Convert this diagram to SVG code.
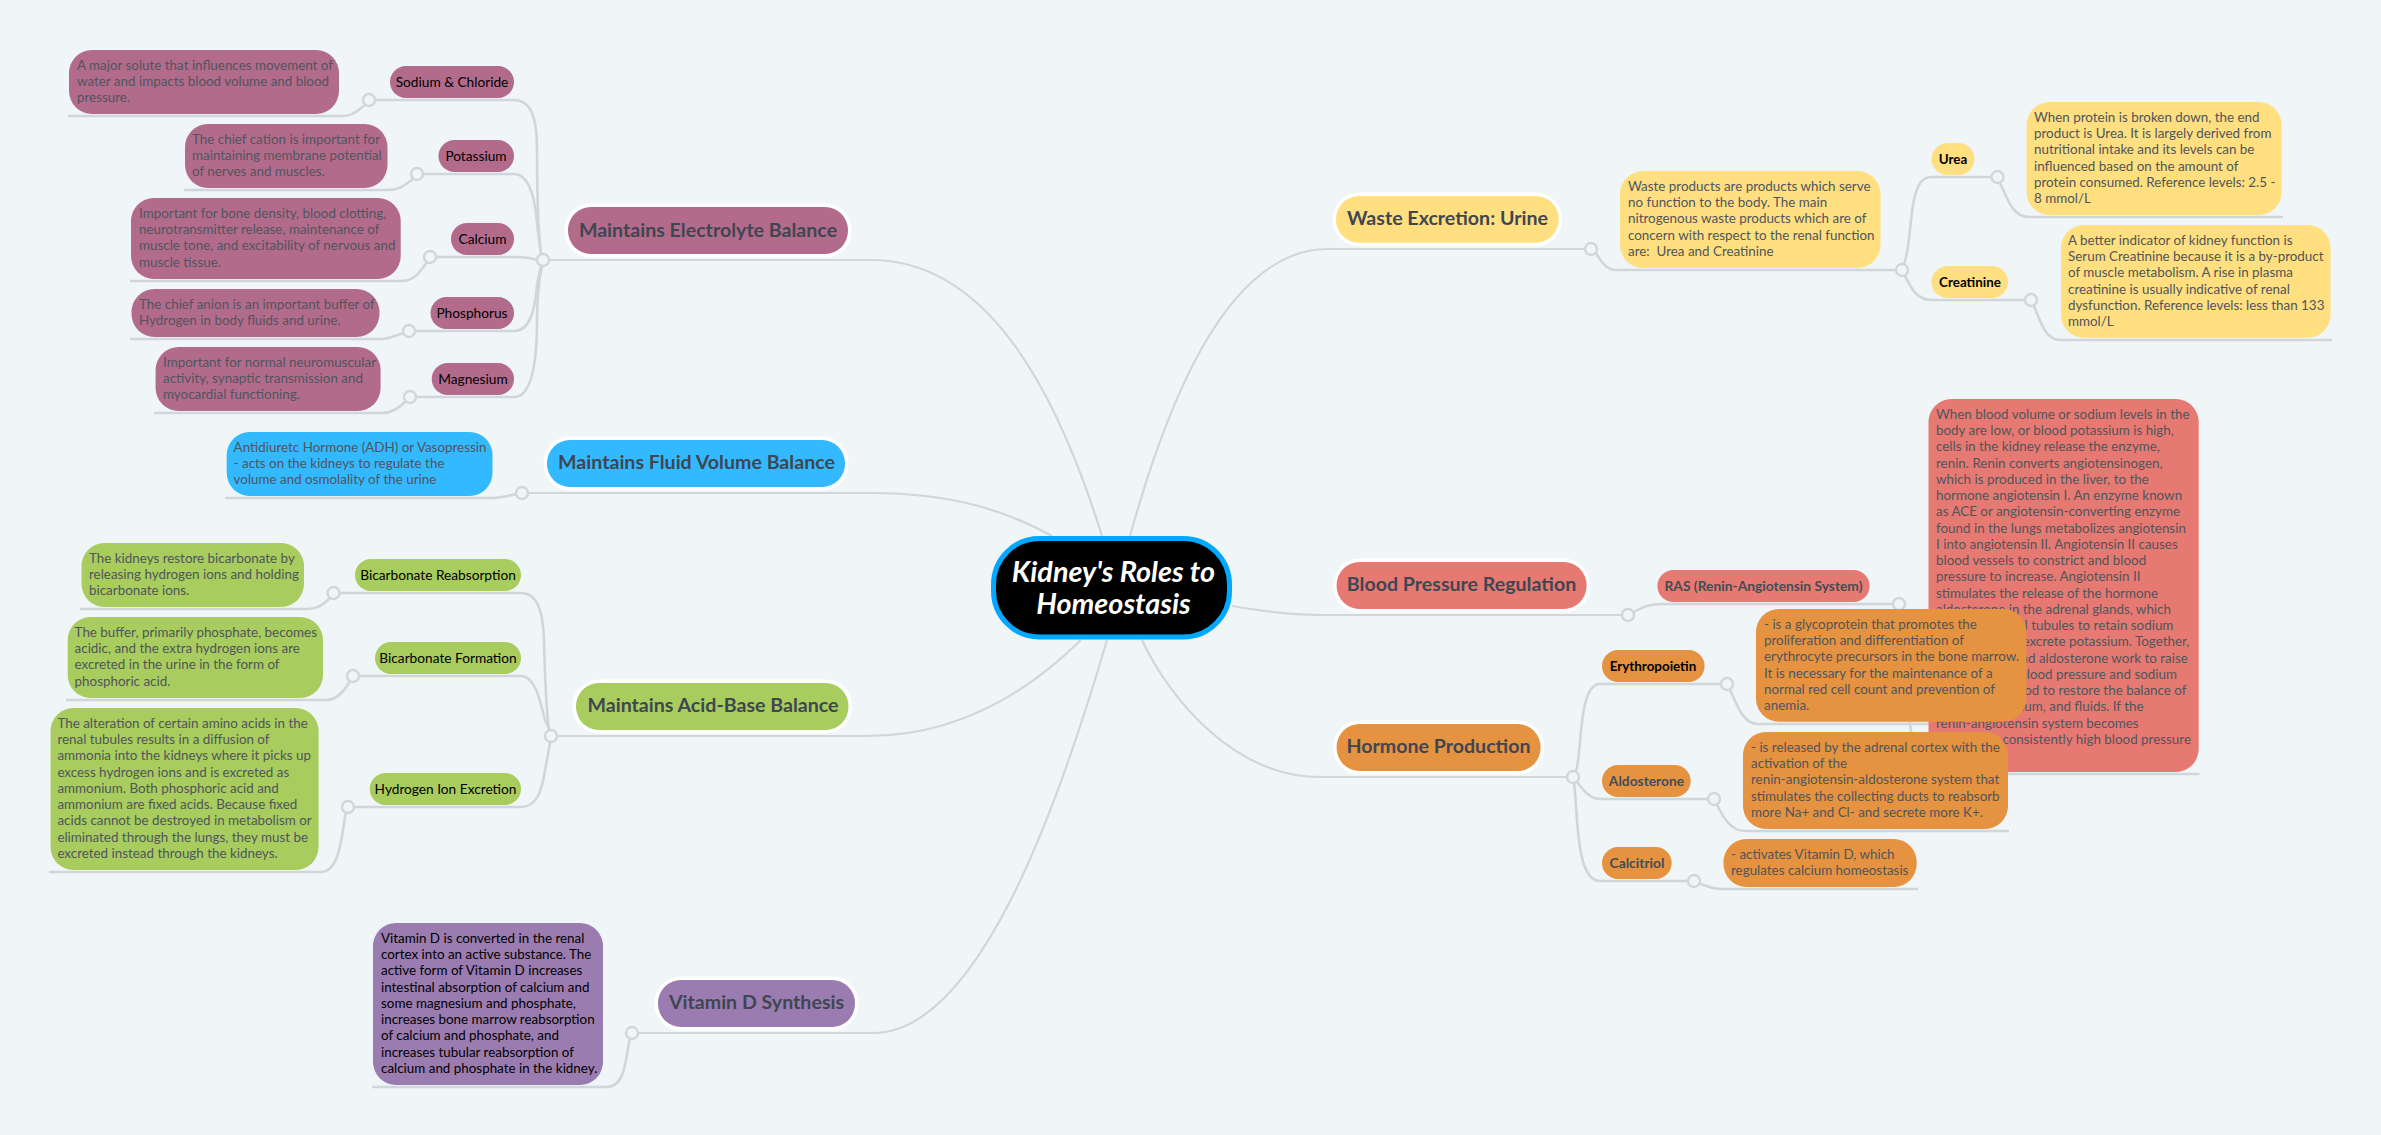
<svg xmlns="http://www.w3.org/2000/svg" width="2381" height="1135" viewBox="0 0 2381 1135">
<style>
text{font-family:"Lato","Liberation Sans",sans-serif}
.c{fill:none;stroke:#d0d6da;stroke-width:2.6}
.r{fill:none;stroke:#d0d6da;stroke-width:2.2}
.h{fill:#f0f5f8;stroke:#d0d6da;stroke-width:2.4}
.m{stroke:#fff;stroke-width:7;paint-order:stroke}
.t{font-size:19.600px;font-weight:700;fill:#3f4651;text-anchor:middle}
.s{font-size:13.700px;font-weight:400;fill:#000;text-anchor:middle}
.sb{font-size:13.400px;font-weight:700;fill:#000;text-anchor:middle}
.sg{font-size:13.800px;font-weight:700;fill:#444c55;text-anchor:middle}
.b{font-size:13.400px;fill:#50555c}
.k{fill:#000}
.e{text-anchor:end}
.pl{fill:#b36b8c}.bl{fill:#33b9ff}.gr{fill:#a8cc5e}.pu{fill:#9a7cb0}.ye{fill:#ffdf7f}.re{fill:#e67a72}.or{fill:#e59340}
</style>
<rect width="2381" height="1135" fill="#f0f5f8"/>
<g id="connectors">
<path class="r" d="M1130 536C1165 410 1225 249 1328 249H1585"/>
<path class="r" d="M1102 536C1055 385 985 260 871 260H548"/>
<path class="r" d="M1052 536C1005 510 950 493 871 493H528"/>
<path class="r" d="M1081 640C1020 700 950 736 867 736H557"/>
<path class="r" d="M1107 640C1060 800 980 1033 873 1033H638"/>
<path class="r" d="M1142 640C1170 700 1235 777 1320 777H1567"/>
<path class="r" d="M1232 606C1260 611 1290 615 1320 615H1622"/>
<path class="c" d="M375 100H514C530 100 537 115 537 150C537 190 538 230 541 254"/>
<path class="c" d="M423 174H514C530 174 535 200 537 222C538 235 540 245 541 254"/>
<path class="c" d="M436 257H514C525 257 532 258 537 260"/>
<path class="c" d="M415 331H514C530 331 535 310 537 285C538 278 540 272 541 266"/>
<path class="c" d="M416 397H514C532 397 537 360 537 320C537 295 539 280 542 266"/>
<path class="c" d="M365 105C358 110 354 116 342 116H68"/>
<path class="c" d="M413 179C406 184 400 190 388 190H184"/>
<path class="c" d="M427 262C420 272 414 281 402 281H130"/>
<path class="c" d="M404 333C396 335 390 339 381 339H130"/>
<path class="c" d="M406 401C400 407 393 413 381 413H154"/>
<path class="c" d="M517 494C510 495 503 498 493 498H225"/>
<path class="c" d="M339 593H521C537 593 543 610 544 640C545 680 547 715 549 730"/>
<path class="c" d="M359 676H521C535 676 540 700 545 720C547 725 549 728 550 730"/>
<path class="c" d="M354 807H521C537 807 542 790 545 770C547 760 549 750 550 742"/>
<path class="c" d="M330 598C325 602 320 609 308 609H80"/>
<path class="c" d="M350 681C345 690 338 700 326 700H66"/>
<path class="c" d="M346 812C342 830 341 872 321 872H49"/>
<path class="c" d="M630 1038C625 1060 626 1087 606 1087H372"/>
<path class="c" d="M1596 253C1600 260 1606 270 1616 270H1896"/>
<path class="c" d="M1904 264C1910 250 1910 215 1914 200C1917 185 1922 177 1932 177H1992"/>
<path class="c" d="M1905 276C1910 285 1915 300 1932 300H2025"/>
<path class="c" d="M2000 183C2006 195 2012 217 2028 217H2283"/>
<path class="c" d="M2034 306C2040 320 2045 340 2060 340H2332"/>
<path class="c" d="M1634 612C1640 608 1650 604 1662 604H1893"/>
<path class="c" d="M1901 610C1906 650 1903 760 1930 774H2199.500"/>
<path class="c" d="M1576 771C1582 755 1578 684 1600 684H1721"/>
<path class="c" d="M1577 782C1583 790 1590 799 1600 799H1708"/>
<path class="c" d="M1574 783C1578 810 1575 881 1600 881H1688"/>
<path class="c" d="M1730 690C1736 702 1742 724 1758 724H2030"/>
<path class="c" d="M1717 805C1722 815 1730 831 1745 831H2009"/>
<path class="c" d="M1700 884C1706 885 1712 889 1722 889H1918"/>
<g fill="#f0f5f8">
<circle class="h" cx="543" cy="260" r="6"/><circle class="h" cx="369" cy="100" r="6"/><circle class="h" cx="417" cy="174" r="6"/><circle class="h" cx="430" cy="257" r="6"/><circle class="h" cx="409" cy="331" r="6"/><circle class="h" cx="410" cy="397" r="6"/><circle class="h" cx="522" cy="493" r="6"/>
<circle class="h" cx="551" cy="736" r="6"/><circle class="h" cx="333.500" cy="593" r="6"/><circle class="h" cx="353" cy="676" r="6"/><circle class="h" cx="348" cy="807" r="6"/><circle class="h" cx="632" cy="1033" r="6"/>
<circle class="h" cx="1591" cy="249" r="6"/><circle class="h" cx="1902" cy="270" r="6"/><circle class="h" cx="1997.500" cy="177" r="6"/><circle class="h" cx="2031" cy="300" r="6"/>
<circle class="h" cx="1628" cy="615" r="6"/><circle class="h" cx="1899" cy="604" r="6"/><circle class="h" cx="1573" cy="777" r="6"/><circle class="h" cx="1727" cy="684" r="6"/><circle class="h" cx="1714" cy="799" r="6"/><circle class="h" cx="1694" cy="881" r="6"/>
</g>
</g>
<g id="central"><rect x="993.500" y="538.500" width="236" height="98.500" rx="46" fill="#000" stroke="#00a8ff" stroke-width="5"/><text x="1113.500" y="582" text-anchor="middle" font-size="28.800" font-weight="700" font-style="italic" fill="#fff">Kidney's Roles to</text><text x="1113.500" y="614" text-anchor="middle" font-size="28.800" font-weight="700" font-style="italic" fill="#fff">Homeostasis</text></g>

<g id="t-electrolyte"><rect class="pl m" x="568" y="207" width="280" height="47" rx="23"/><text class="t" x="708" y="236.500">Maintains Electrolyte Balance</text></g>
<g id="n-sodium"><rect class="pl" x="390" y="66" width="124" height="32" rx="16"/><text class="s" x="452" y="87">Sodium &amp; Chloride</text></g>
<g id="d-sodium"><rect class="pl" x="69" y="50" width="270" height="64" rx="23"/><text class="b"><tspan x="77" y="70">A major solute that influences movement of</tspan><tspan x="77" y="86">water and impacts blood volume and blood</tspan><tspan x="77" y="102">pressure.</tspan></text></g>
<g id="n-potassium"><rect class="pl" x="438.500" y="140" width="75.500" height="32" rx="16"/><text class="s" x="476" y="161">Potassium</text></g>
<g id="d-potassium"><rect class="pl" x="185" y="124" width="202.500" height="64" rx="23"/><text class="b"><tspan x="192" y="144">The chief cation is important for</tspan><tspan x="192" y="160">maintaining membrane potential</tspan><tspan x="192" y="176">of nerves and muscles.</tspan></text></g>
<g id="n-calcium"><rect class="pl" x="451" y="223" width="63" height="32" rx="16"/><text class="s" x="482.500" y="244">Calcium</text></g>
<g id="d-calcium"><rect class="pl" x="131" y="198" width="269.700" height="81" rx="23"/><text class="b"><tspan x="139" y="218">Important for bone density, blood clotting,</tspan><tspan x="139" y="234">neurotransmitter release, maintenance of</tspan><tspan x="139" y="250">muscle tone, and excitability of nervous and</tspan><tspan x="139" y="267">muscle tissue.</tspan></text></g>
<g id="n-phosphorus"><rect class="pl" x="430.500" y="297" width="83.500" height="32" rx="16"/><text class="s" x="472" y="318">Phosphorus</text></g>
<g id="d-phosphorus"><rect class="pl" x="131.500" y="289" width="248" height="48" rx="23"/><text class="b"><tspan x="139" y="309">The chief anion is an important buffer of</tspan><tspan x="139" y="325">Hydrogen in body fluids and urine.</tspan></text></g>
<g id="n-magnesium"><rect class="pl" x="431.700" y="363" width="82.300" height="32" rx="16"/><text class="s" x="473" y="384">Magnesium</text></g>
<g id="d-magnesium"><rect class="pl" x="155.600" y="347" width="225" height="64" rx="23"/><text class="b"><tspan x="163" y="367">Important for normal neuromuscular</tspan><tspan x="163" y="383">activity, synaptic transmission and</tspan><tspan x="163" y="399">myocardial functioning.</tspan></text></g>

<g id="t-fluid"><rect class="bl m" x="547" y="440" width="298" height="47" rx="23"/><text class="t" x="696.500" y="469">Maintains Fluid Volume Balance</text></g>
<g id="d-fluid"><rect class="bl" x="226.700" y="432" width="265.800" height="64" rx="23"/><text class="b"><tspan x="233.600" y="452">Antidiuretc Hormone (ADH) or Vasopressin</tspan><tspan x="233.600" y="468">- acts on the kidneys to regulate the</tspan><tspan x="233.600" y="484">volume and osmolality of the urine</tspan></text></g>

<g id="t-acid"><rect class="gr m" x="576" y="683" width="272.500" height="47" rx="23"/><text class="t" x="713" y="712">Maintains Acid-Base Balance</text></g>
<g id="n-reabs"><rect class="gr" x="355" y="559" width="166" height="32" rx="16"/><text class="s" x="438" y="580">Bicarbonate Reabsorption</text></g>
<g id="d-reabs"><rect class="gr" x="81.500" y="543" width="222.500" height="64" rx="23"/><text class="b"><tspan x="89" y="563">The kidneys restore bicarbonate by</tspan><tspan x="89" y="579">releasing hydrogen ions and holding</tspan><tspan x="89" y="595">bicarbonate ions.</tspan></text></g>
<g id="n-form"><rect class="gr" x="375" y="642" width="146" height="32" rx="16"/><text class="s" x="448" y="663">Bicarbonate Formation</text></g>
<g id="d-form"><rect class="gr" x="67.700" y="617" width="255.300" height="81" rx="23"/><text class="b"><tspan x="74.600" y="637">The buffer, primarily phosphate, becomes</tspan><tspan x="74.600" y="653">acidic, and the extra hydrogen ions are</tspan><tspan x="74.600" y="669">excreted in the urine in the form of</tspan><tspan x="74.600" y="686">phosphoric acid.</tspan></text></g>
<g id="n-hyd"><rect class="gr" x="369.700" y="773" width="151.300" height="32" rx="16"/><text class="s" x="445.500" y="794">Hydrogen Ion Excretion</text></g>
<g id="d-hyd"><rect class="gr" x="50.500" y="708" width="268.100" height="162" rx="23"/><text class="b"><tspan x="57.400" y="728">The alteration of certain amino acids in the</tspan><tspan x="57.400" y="744">renal tubules results in a diffusion of</tspan><tspan x="57.400" y="760">ammonia into the kidneys where it picks up</tspan><tspan x="57.400" y="777">excess hydrogen ions and is excreted as</tspan><tspan x="57.400" y="793">ammonium. Both phosphoric acid and</tspan><tspan x="57.400" y="809">ammonium are fixed acids. Because fixed</tspan><tspan x="57.400" y="825">acids cannot be destroyed in metabolism or</tspan><tspan x="57.400" y="842">eliminated through the lungs, they must be</tspan><tspan x="57.400" y="858">excreted instead through the kidneys.</tspan></text></g>

<g id="t-vitd"><rect class="pu m" x="658" y="980" width="197" height="47" rx="23"/><text class="t" x="756.500" y="1008.500">Vitamin D Synthesis</text></g>
<g id="d-vitd"><rect class="pu" x="373" y="923" width="230" height="162" rx="23"/><text class="b k"><tspan x="381" y="943">Vitamin D is converted in the renal</tspan><tspan x="381" y="959">cortex into an active substance. The</tspan><tspan x="381" y="975">active form of Vitamin D increases</tspan><tspan x="381" y="992">intestinal absorption of calcium and</tspan><tspan x="381" y="1008">some magnesium and phosphate,</tspan><tspan x="381" y="1024">increases bone marrow reabsorption</tspan><tspan x="381" y="1040">of calcium and phosphate, and</tspan><tspan x="381" y="1057">increases tubular reabsorption of</tspan><tspan x="381" y="1073">calcium and phosphate in the kidney.</tspan></text></g>

<g id="t-waste"><rect class="ye m" x="1336" y="196" width="222.700" height="46.700" rx="23"/><text class="t" x="1447.500" y="225">Waste Excretion: Urine</text></g>
<g id="d-waste"><rect class="ye" x="1620" y="171" width="260.500" height="97" rx="23"/><text class="b"><tspan x="1628" y="191">Waste products are products which serve</tspan><tspan x="1628" y="207">no function to the body. The main</tspan><tspan x="1628" y="223">nitrogenous waste products which are of</tspan><tspan x="1628" y="240">concern with respect to the renal function</tspan><tspan x="1628" y="256" xml:space="preserve">are:  Urea and Creatinine</tspan></text></g>
<g id="n-urea"><rect class="ye" x="1931.500" y="143" width="43" height="32" rx="16"/><text class="sb" x="1953" y="164">Urea</text></g>
<g id="d-urea"><rect class="ye" x="2026.600" y="102" width="255" height="113" rx="23"/><text class="b"><tspan x="2034" y="122">When protein is broken down, the end</tspan><tspan x="2034" y="138">product is Urea. It is largely derived from</tspan><tspan x="2034" y="154">nutritional intake and its levels can be</tspan><tspan x="2034" y="171">influenced based on the amount of</tspan><tspan x="2034" y="187">protein consumed. Reference levels: 2.5 -</tspan><tspan x="2034" y="203">8 mmol/L</tspan></text></g>
<g id="n-creat"><rect class="ye" x="1931.500" y="266" width="76.500" height="32" rx="16"/><text class="sb" x="1970" y="287">Creatinine</text></g>
<g id="d-creat"><rect class="ye" x="2061" y="225" width="269.600" height="112.700" rx="23"/><text class="b"><tspan x="2068" y="245">A better indicator of kidney function is</tspan><tspan x="2068" y="261">Serum Creatinine because it is a by-product</tspan><tspan x="2068" y="277">of muscle metabolism. A rise in plasma</tspan><tspan x="2068" y="294">creatinine is usually indicative of renal</tspan><tspan x="2068" y="310">dysfunction. Reference levels: less than 133</tspan><tspan x="2068" y="326">mmol/L</tspan></text></g>

<g id="t-bp"><rect class="re m" x="1336.600" y="562" width="250" height="47" rx="23"/><text class="t" x="1461.500" y="591">Blood Pressure Regulation</text></g>
<g id="n-ras"><rect class="re" x="1657.400" y="570" width="212.200" height="32" rx="16"/><text class="sg" x="1763.500" y="591">RAS (Renin-Angiotensin System)</text></g>
<g id="d-ras"><rect class="re" x="1928.500" y="399" width="270.200" height="373" rx="23"/><text class="b"><tspan x="1936" y="419">When blood volume or sodium levels in the</tspan><tspan x="1936" y="435">body are low, or blood potassium is high,</tspan><tspan x="1936" y="451">cells in the kidney release the enzyme,</tspan><tspan x="1936" y="468">renin. Renin converts angiotensinogen,</tspan><tspan x="1936" y="484">which is produced in the liver, to the</tspan><tspan x="1936" y="500">hormone angiotensin I. An enzyme known</tspan><tspan x="1936" y="516">as ACE or angiotensin-converting enzyme</tspan><tspan x="1936" y="533">found in the lungs metabolizes angiotensin</tspan><tspan x="1936" y="549">I into angiotensin II. Angiotensin II causes</tspan><tspan x="1936" y="565">blood vessels to constrict and blood</tspan><tspan x="1936" y="581">pressure to increase. Angiotensin II</tspan><tspan x="1936" y="598">stimulates the release of the hormone</tspan><tspan x="1936" y="614">aldosterone in the adrenal glands, which</tspan></text>
<text class="b e" x="2173.400" y="630">renal tubules to retain sodium</text><text class="b e" x="2189.400" y="646">excrete potassium. Together,</text><text class="b e" x="2187.800" y="663">and aldosterone work to raise</text><text class="b e" x="2177" y="679">blood pressure and sodium</text><text class="b e" x="2186.500" y="695">blood to restore the balance of</text><text class="b e" x="2143.600" y="711">sodium, and fluids. If the</text><text class="b" x="1936" y="728">renin-angiotensin system becomes</text><text class="b e" x="2191" y="744">consistently high blood pressure</text></g>

<g id="t-hormone"><rect class="or m" x="1336.600" y="724" width="204" height="47" rx="23"/><text class="t" x="1438.500" y="752.500">Hormone Production</text></g>
<g id="n-ery"><rect class="or" x="1602" y="650" width="102.600" height="32" rx="16"/><text class="sb" x="1653" y="671">Erythropoietin</text></g>
<g id="d-ery"><rect class="or" x="1756" y="609" width="270.500" height="112.700" rx="23"/><text class="b"><tspan x="1764" y="629">- is a glycoprotein that promotes the</tspan><tspan x="1764" y="645">proliferation and differentiation of</tspan><tspan x="1764" y="661">erythrocyte precursors in the bone marrow.</tspan><tspan x="1764" y="678">It is necessary for the maintenance of a</tspan><tspan x="1764" y="694">normal red cell count and prevention of</tspan><tspan x="1764" y="710">anemia.</tspan></text></g>
<g id="n-aldo"><rect class="or" x="1602" y="765" width="88.700" height="32" rx="16"/><text class="sg" x="1646.500" y="786">Aldosterone</text></g>
<g id="d-aldo"><rect class="or" x="1743" y="732" width="265" height="97" rx="23"/><text class="b"><tspan x="1751" y="752">- is released by the adrenal cortex with the</tspan><tspan x="1751" y="768">activation of the</tspan><tspan x="1751" y="784">renin-angiotensin-aldosterone system that</tspan><tspan x="1751" y="801">stimulates the collecting ducts to reabsorb</tspan><tspan x="1751" y="817">more Na+ and Cl- and secrete more K+.</tspan></text></g>
<g id="n-calc"><rect class="or" x="1602" y="847" width="69.700" height="32" rx="16"/><text class="sg" x="1637" y="868">Calcitriol</text></g>
<g id="d-calc"><rect class="or" x="1723.500" y="839" width="193.200" height="48" rx="23"/><text class="b"><tspan x="1731" y="859">- activates Vitamin D, which</tspan><tspan x="1731" y="875">regulates calcium homeostasis</tspan></text></g>
</svg>
